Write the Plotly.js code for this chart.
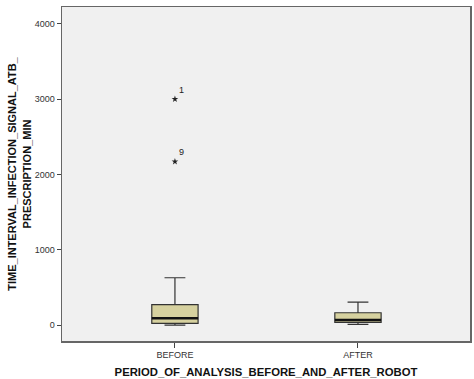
<!DOCTYPE html>
<html>
<head>
<meta charset="utf-8">
<script src="https://cdn.plot.ly/plotly-3.0.1.min.js"></script>
<style>html,body{margin:0;padding:0;background:#fff;}#chart{width:474px;height:379px;}</style>
</head>
<body>
<div id="chart"></div>
<script>
var categories = ["BEFORE", "AFTER"];
var lowerWhisker = [0, 9];
var q1Values = [22, 36];
var medianValues = [89, 66];
var q3Values = [270, 163];
var upperWhisker = [628, 305];

var outlierCategory = ["BEFORE", "BEFORE"];
var outlierValues = [3000, 2170];
var outlierLabels = ["1", "9"];

var yTicks = [0, 1000, 2000, 3000, 4000];

var boxWidth = 0.253;

var traces = [
  {
    type: "box",
    x: categories,
    q1: q1Values,
    median: medianValues,
    q3: q3Values,
    lowerfence: lowerWhisker,
    upperfence: upperWhisker,
    width: boxWidth,
    whiskerwidth: 0.45,
    fillcolor: "#d6d19f",
    line: {color: "#333333", width: 1.2},
    boxpoints: false,
    hoverinfo: "skip",
    showlegend: false
  },
  {
    type: "scatter",
    mode: "markers+text",
    x: outlierCategory,
    y: outlierValues,
    text: outlierLabels,
    textposition: "top right",
    textfont: {family: "Liberation Sans, Arial, sans-serif", size: 9, color: "#222"},
    marker: {symbol: "star", size: 5, color: "#222"},
    hoverinfo: "skip",
    showlegend: false
  }
];

// thick median lines, positioned from the data arrays
var medianShapes = medianValues.map(function (m, i) {
  return {
    type: "line", xref: "x", yref: "y",
    x0: i - boxWidth / 2, x1: i + boxWidth / 2, y0: m, y1: m,
    line: {color: "#111111", width: 2.5}
  };
});

var layout = {
  width: 474,
  height: 379,
  margin: {l: 62, r: 4, t: 7, b: 38},
  paper_bgcolor: "#ffffff",
  plot_bgcolor: "#f0f0f0",
  showlegend: false,
  shapes: medianShapes,
  font: {family: "Liberation Sans, Arial, sans-serif", color: "#222"},
  xaxis: {
    type: "category",
    range: [-0.617, 1.612],
    showgrid: false,
    zeroline: false,
    showline: true,
    mirror: true,
    linecolor: "#666666",
    linewidth: 1.5,
    ticks: "outside",
    ticklen: 5,
    tickcolor: "#444",
    tickfont: {size: 9, color: "#333"},
    title: {text: "<b>PERIOD_OF_ANALYSIS_BEFORE_AND_AFTER_ROBOT</b>", font: {size: 11.3, color: "#111"}, standoff: 9}
  },
  yaxis: {
    range: [-212, 4223],
    tickvals: yTicks,
    ticktext: yTicks.map(String),
    showgrid: false,
    zeroline: false,
    showline: true,
    mirror: true,
    linecolor: "#666666",
    linewidth: 1.5,
    ticks: "outside",
    ticklen: 4,
    tickcolor: "#444",
    tickfont: {size: 9, color: "#333"},
    title: {text: "<b>TIME_INTERVAL_INFECTION_SIGNAL_ATB_</b><br><b>PRESCRIPTION_MIN</b>", font: {size: 11, color: "#111"}, standoff: 1}
  }
};

Plotly.newPlot("chart", traces, layout, {displayModeBar: false, staticPlot: true});
</script>
</body>
</html>
